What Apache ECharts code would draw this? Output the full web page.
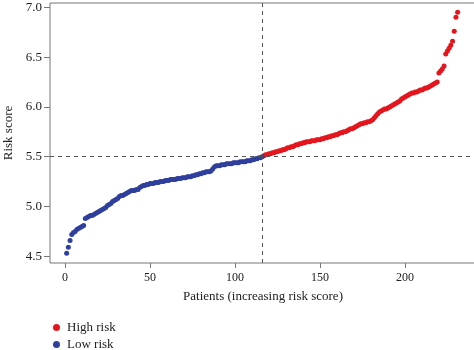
<!DOCTYPE html>
<html>
<head>
<meta charset="utf-8">
<script src="https://cdn.jsdelivr.net/npm/echarts@6/dist/echarts.min.js"></script>
<style>
  html, body { margin: 0; padding: 0; background: #fff; }
  #chart { width: 474px; height: 350px; }
</style>
</head>
<body>
<div id="chart"></div>
<script>
// risk scores, sorted ascending (patients 1..116 low risk, 117..231 high risk)
var lowRisk = [
  4.53, 4.59, 4.66, 4.72, 4.74, 4.75, 4.77, 4.78, 4.79, 4.80,
  4.81, 4.88, 4.89, 4.90, 4.91, 4.91, 4.92, 4.93, 4.94, 4.95,
  4.96, 4.97, 4.98, 4.99, 5.01, 5.02, 5.03, 5.05, 5.06, 5.07,
  5.08, 5.10, 5.11, 5.11, 5.12, 5.13, 5.14, 5.15, 5.16, 5.16,
  5.16, 5.17, 5.17, 5.19, 5.20, 5.21, 5.21, 5.22, 5.22, 5.23,
  5.23, 5.23, 5.24, 5.24, 5.24, 5.25, 5.25, 5.25, 5.26, 5.26,
  5.26, 5.27, 5.27, 5.27, 5.27, 5.28, 5.28, 5.28, 5.29, 5.29,
  5.29, 5.30, 5.30, 5.30, 5.31, 5.31, 5.32, 5.32, 5.33, 5.33,
  5.34, 5.34, 5.35, 5.35, 5.35, 5.36, 5.38, 5.40, 5.41, 5.41,
  5.41, 5.42, 5.42, 5.42, 5.43, 5.43, 5.43, 5.43, 5.44, 5.44,
  5.44, 5.44, 5.45, 5.45, 5.45, 5.45, 5.46, 5.46, 5.46, 5.47,
  5.47, 5.48, 5.48, 5.49, 5.49, 5.50
];
var highRisk = [
  5.51, 5.52, 5.52, 5.53, 5.53, 5.54, 5.54, 5.55, 5.55, 5.56,
  5.56, 5.57, 5.57, 5.58, 5.59, 5.59, 5.60, 5.60, 5.61, 5.62,
  5.62, 5.63, 5.63, 5.64, 5.64, 5.65, 5.65, 5.65, 5.66, 5.66,
  5.66, 5.67, 5.67, 5.67, 5.68, 5.68, 5.69, 5.69, 5.70, 5.70,
  5.71, 5.71, 5.72, 5.72, 5.73, 5.74, 5.74, 5.75, 5.75, 5.76,
  5.77, 5.78, 5.78, 5.79, 5.80, 5.81, 5.82, 5.83, 5.83, 5.84,
  5.84, 5.85, 5.85, 5.86, 5.87, 5.89, 5.91, 5.93, 5.95, 5.96,
  5.97, 5.98, 5.98, 5.99, 6.00, 6.01, 6.02, 6.03, 6.04, 6.05,
  6.06, 6.08, 6.09, 6.10, 6.11, 6.12, 6.13, 6.14, 6.14, 6.15,
  6.15, 6.16, 6.17, 6.17, 6.18, 6.19, 6.19, 6.20, 6.21, 6.22,
  6.23, 6.24, 6.25, 6.34, 6.36, 6.38, 6.41, 6.53, 6.56, 6.59,
  6.62, 6.66, 6.76, 6.90, 6.95
];
var xTicks = [0, 50, 100, 150, 200];
var yTicks = [4.5, 5.0, 5.5, 6.0, 6.5, 7.0];
var cutoffPatient = 116;
var cutoffScore = 5.5;

var FONT = '"Liberation Serif", "DejaVu Serif", serif';
var TEXT = '#222';
var AXIS = '#777';
var RED = '#e4161d';
var BLUE = '#2f3f9c';

function puntos(valores, inicio) {
    return valores.map(function (v, i) { return [inicio + i, v]; });
}

function leyenda(nombre, top) {
    return {
        left: 48, top: top,
        itemWidth: 11, itemHeight: 7,
        icon: 'circle',
        data: [nombre],
        textStyle: { fontFamily: FONT, fontSize: 13, color: TEXT }
    };
}

var chart = echarts.init(document.getElementById('chart'));
chart.setOption({
    animation: false,
    grid: {
        left: 50, right: -2, top: 3, bottom: 87,
        outerBoundsMode: 'none',
        show: true, borderColor: AXIS, borderWidth: 1
    },
    legend: [leyenda('High risk', 316), leyenda('Low risk', 333)],
    xAxis: {
        type: 'value',
        min: -8.8, max: 241.8,
        name: 'Patients (increasing risk score)',
        nameLocation: 'middle', nameGap: 27,
        nameTextStyle: { fontFamily: FONT, fontSize: 13, color: TEXT },
        axisLine: { show: false, onZero: false },
        axisTick: { show: true, length: 5, customValues: xTicks, lineStyle: { color: AXIS } },
        axisLabel: { customValues: xTicks, margin: 9, fontFamily: FONT, fontSize: 12, color: TEXT },
        splitLine: { show: false }
    },
    yAxis: {
        type: 'value',
        min: 4.433, max: 7.043,
        name: 'Risk score',
        nameLocation: 'middle', nameGap: 34,
        nameTextStyle: { fontFamily: FONT, fontSize: 13, color: TEXT },
        axisLine: { show: false, onZero: false },
        axisTick: { show: true, length: 6, customValues: yTicks, lineStyle: { color: AXIS } },
        axisLabel: {
            customValues: yTicks, margin: 8, fontFamily: FONT, fontSize: 13, color: TEXT,
            formatter: function (v) { return v.toFixed(1); }
        },
        splitLine: { show: false }
    },
    series: [{
        name: 'High risk',
        type: 'scatter',
        symbolSize: 5,
        itemStyle: { color: RED, opacity: 1 },
        data: puntos(highRisk, lowRisk.length + 1),
        markLine: {
            silent: true,
            symbol: 'none',
            label: { show: false },
            lineStyle: { color: '#555', type: [4, 4], width: 1 },
            data: [{ xAxis: cutoffPatient }, { yAxis: cutoffScore }]
        }
    }, {
        name: 'Low risk',
        type: 'scatter',
        symbolSize: 5,
        itemStyle: { color: BLUE, opacity: 1 },
        data: puntos(lowRisk, 1)
    }]
});
</script>
</body>
</html>
